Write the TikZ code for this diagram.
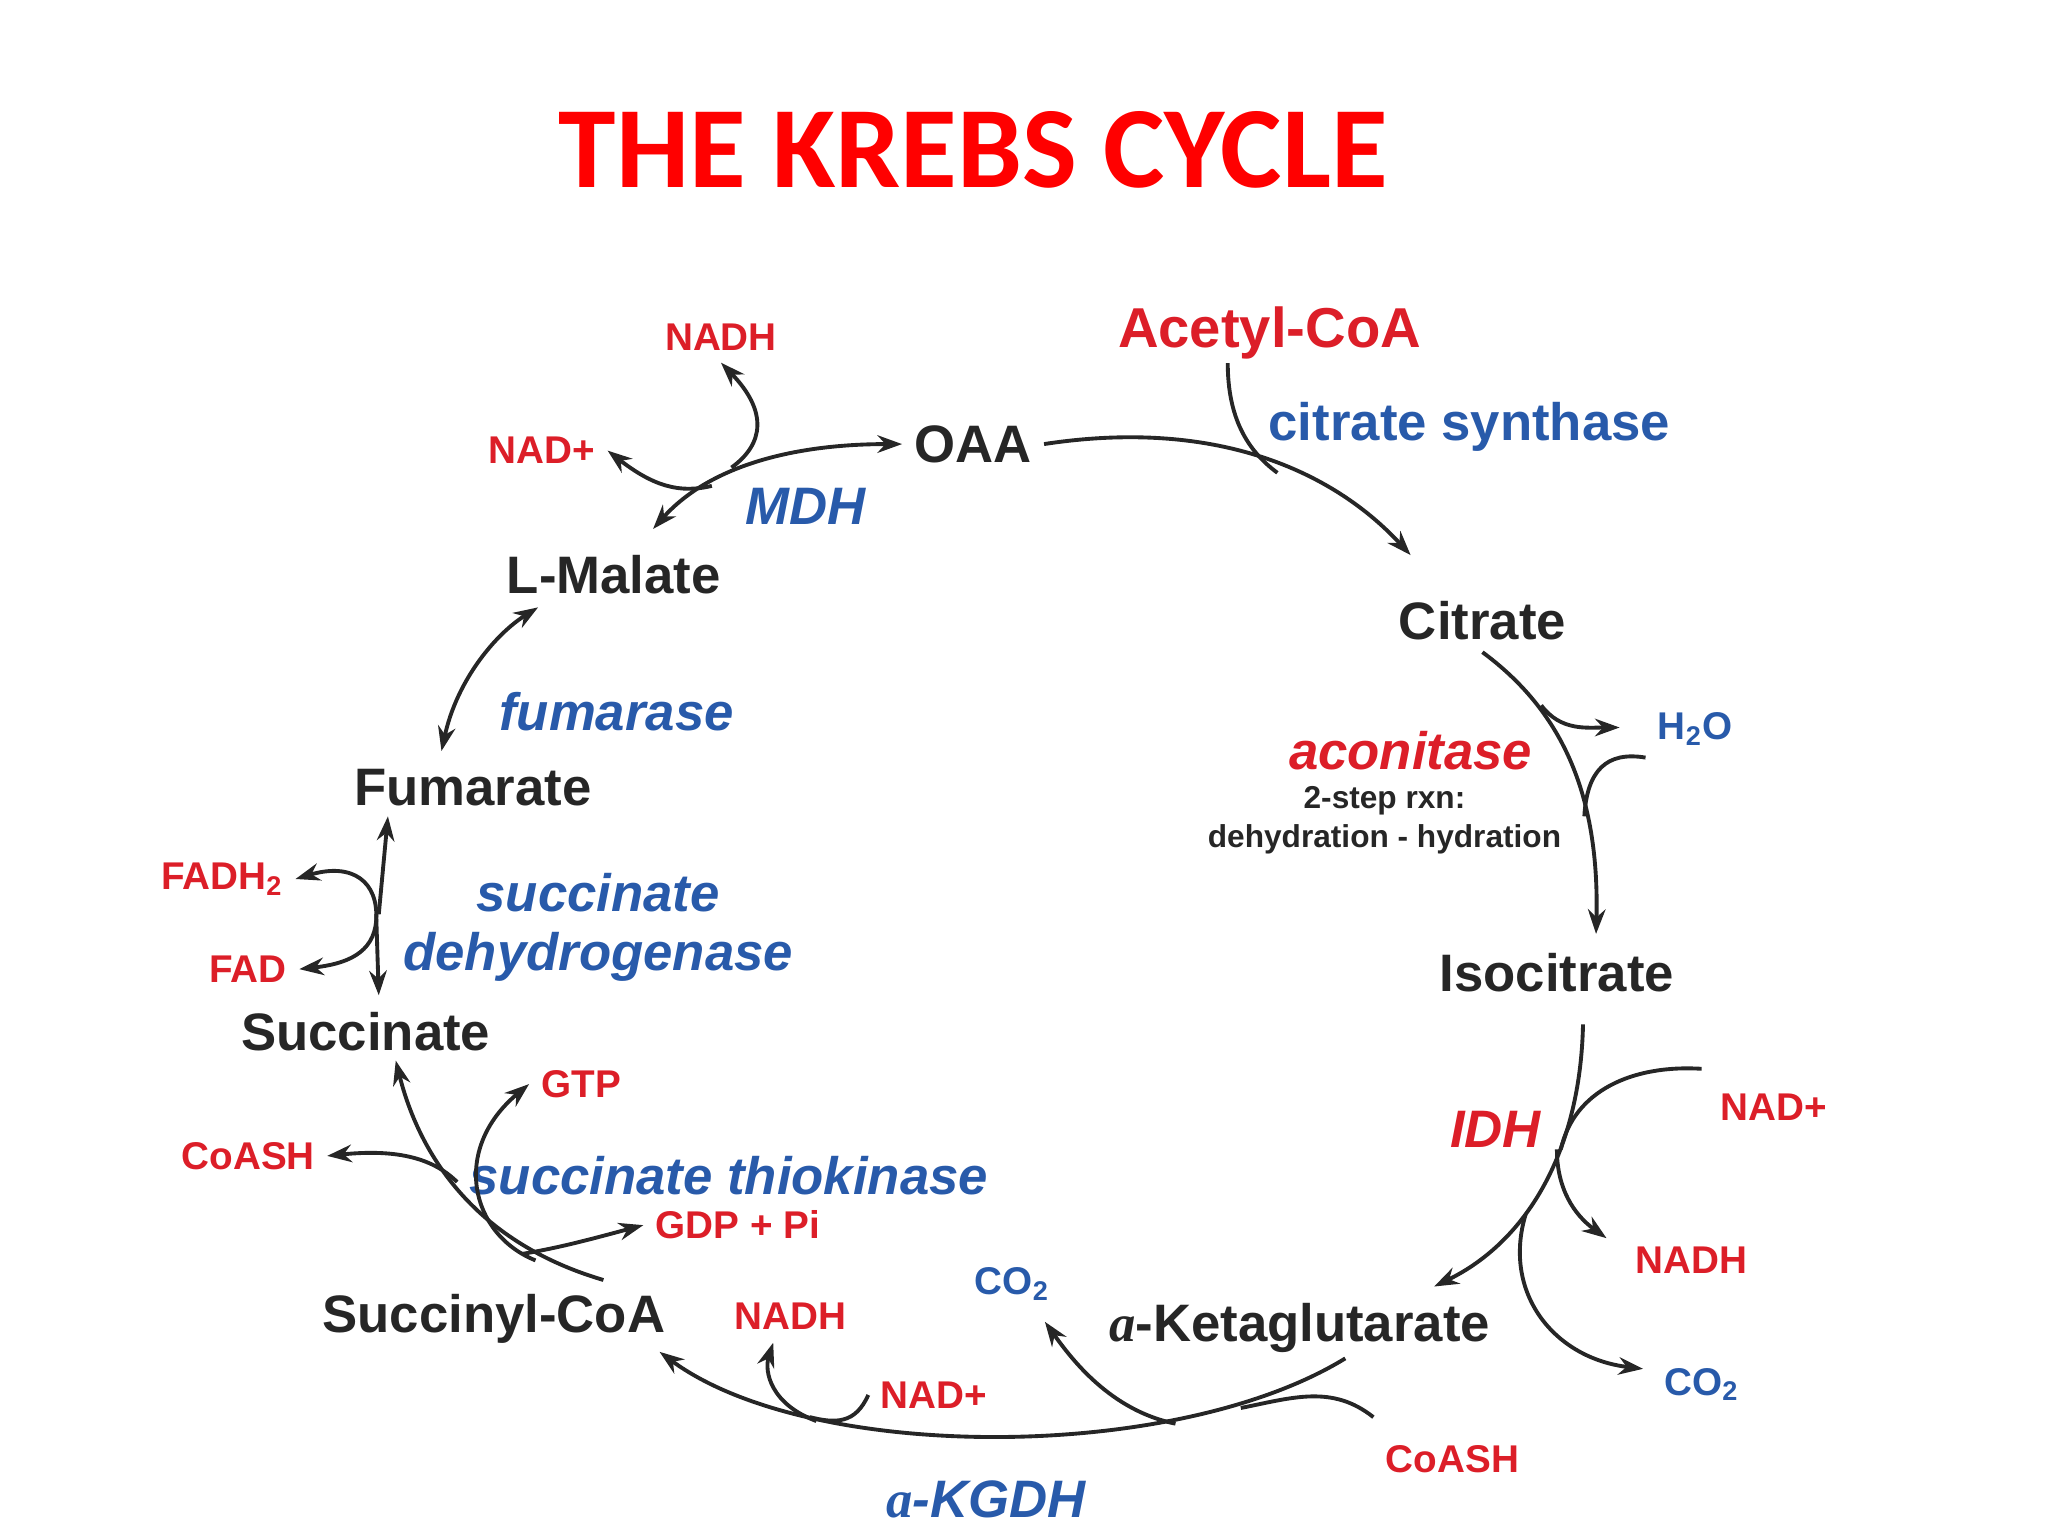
\documentclass[tikz,border=0pt]{standalone}
\usepackage{fontspec}
\setmainfont{Liberation Sans}
\newfontfamily\titlef{Carlito}
\newfontfamily\serifit{Liberation Serif}
\usetikzlibrary{arrows.meta}
\definecolor{kred}{RGB}{220,30,40}
\definecolor{kblue}{RGB}{40,90,170}
\begin{document}
\begin{tikzpicture}[x=0.01306cm,y=-0.01306cm,
 mol/.style={font=\fontsize{15}{17}\selectfont\bfseries,text=black!85},
 red/.style={font=\fontsize{11}{13}\selectfont\bfseries,text=kred},
 blu/.style={font=\fontsize{11}{13}\selectfont\bfseries,text=kblue},
 enz/.style={font=\fontsize{15}{17}\selectfont\bfseries\itshape,text=kblue},
 renz/.style={font=\fontsize{15}{17}\selectfont\bfseries\itshape,text=kred},
 ar/.style={-{Stealth[length=7pt,width=5pt]},line width=1.1pt,black!85},
 ln/.style={line width=1.1pt,black!85}]
\useasboundingbox (0,0) rectangle (1568,1176);
\node[font=\fontsize{33}{38}\selectfont\titlef\bfseries,text=red] (title) at (745,115) {THE KREBS CYCLE};
% molecules
\node[mol] (oaa) at (745,340) {OAA};
\node[mol] (cit) at (1135,475) {Citrate};
\node[mol] (iso) at (1192,745) {Isocitrate};
\node[mol] (akg) at (995,1017) {{\serifit\itshape a}-Ketaglutarate};
\node[mol] (sca) at (378,1010) {Succinyl-CoA};
\node[mol] (suc) at (280,790) {Succinate};
\node[mol] (fum) at (362,603) {Fumarate};
\node[mol] (mal) at (470,440) {L-Malate};
% enzymes
\node[enz,font=\fontsize{15}{17}\selectfont\bfseries] (cs) at (1125,327) {citrate synthase};
\node[renz] (acon) at (1080,575) {aconitase};
\node[font=\fontsize{9}{11}\selectfont\bfseries,text=black!85,align=center] (rxn) at (1060,628) {2-step rxn:\\dehydration - hydration};
\node[renz] (idh) at (1145,865) {IDH};
\node[enz] (kgdh) at (755,1148) {{\serifit a}-KGDH};
\node[enz] (sth) at (558,900) {succinate thiokinase};
\node[enz,align=center] (sdh) at (458,710) {succinate\\dehydrogenase};
\node[enz] (fumase) at (472,545) {fumarase};
\node[enz] (mdh) at (617,388) {MDH};
% cofactors
\node[font=\fontsize{16}{18}\selectfont\bfseries,text=kred] (acoa) at (972,255) {Acetyl-CoA};
\node[red] (nadh1) at (552,258) {NADH};
\node[red] (nad1) at (415,345) {NAD+};
\node[red] (fadh) at (170,673) {FADH\textsubscript{2}};
\node[red] (fad) at (190,742) {FAD};
\node[red] (gtp) at (445,830) {GTP};
\node[red] (coa1) at (190,885) {CoASH};
\node[red] (gdp) at (565,938) {GDP + Pi};
\node[red] (nadh2) at (605,1008) {NADH};
\node[red] (nad2) at (715,1068) {NAD+};
\node[blu] (co2a) at (775,983) {CO\textsubscript{2}};
\node[red] (coa2) at (1112,1117) {CoASH};
\node[red] (nad3) at (1358,848) {NAD+};
\node[red] (nadh3) at (1295,965) {NADH};
\node[blu] (co2b) at (1303,1060) {CO\textsubscript{2}};
\node[blu] (h2o) at (1298,558) {H\textsubscript{2}O};
% OAA -> Citrate
\coordinate (c1) at (1080,425);
\draw[ar] (oaa.east) .. controls (930,320) and (1020,360) .. (c1);
\coordinate (a0) at (940,278);
\draw[ln] (a0) .. controls (940,320) and (955,345) .. (978,362);
% Citrate -> Isocitrate
\coordinate (c2) at (1222,715);
\draw[ar] (cit.south) .. controls (1190,540) and (1225,600) .. (c2);
\coordinate (h1) at (1240,557);
\draw[ar] (1180,540) .. controls (1195,560) and (1215,557) .. (h1);
\draw[ln] (h2o.south west) .. controls (1230,575) and (1215,590) .. (1213,625);
% Isocitrate -> aKG
\coordinate (c3) at (1098,985);
\draw[ar] (iso.south) ++(20,15) .. controls (1210,880) and (1170,950) .. (c3);
\draw[ln] (nad3.north west) ++(-5,-10) .. controls (1250,815) and (1205,835) .. (1195,880);
\coordinate (n3) at (1230,948);
\draw[ar] (1192,880) .. controls (1192,910) and (1205,930) .. (n3);
\coordinate (o3) at (1258,1048);
\draw[ar] (1168,930) .. controls (1150,990) and (1190,1040) .. (o3);
% aKG -> Succinyl-CoA
\coordinate (c4) at (505,1035);
\draw[ar] (1030,1040) .. controls (900,1120) and (620,1120) .. (c4);
\draw[ln] (coa2.north west) ++(0,-12) .. controls (1020,1060) and (990,1070) .. (950,1078);
\coordinate (o4) at (800,1012);
\draw[ar] (900,1090) .. controls (850,1080) and (820,1040) .. (o4);
\draw[ln] (nad2.west) .. controls (655,1090) and (640,1090) .. (620,1085);
\coordinate (n4) at (592,1028);
\draw[ar] (625,1088) .. controls (590,1075) and (585,1050) .. (n4);
% Succinyl-CoA -> Succinate
\coordinate (c5) at (303,812);
\draw[ar] (462,980) .. controls (360,950) and (320,880) .. (c5);
\draw[ar] (350,905) .. controls (330,885) and (300,880) .. (coa1.east);
\draw[ar] (400,960) .. controls (430,955) and (455,948) .. (gdp.west);
\draw[ar] (410,965) .. controls (360,945) and (345,880) .. (gtp.west);
% Succinate <-> Fumarate
\draw[ar] (290,700) -- (297,625);
\draw[ar] (288,700) -- (290,762);
\draw[ar] (288,705) .. controls (290,675) and (270,660) .. (fadh.east);
\draw[ar] (288,705) .. controls (286,730) and (265,738) .. (fad.east);
% Fumarate <-> L-Malate
\coordinate (f1) at (338,575);
\coordinate (m1) at (412,465);
\draw[{Stealth[length=7pt,width=5pt]}-{Stealth[length=7pt,width=5pt]},line width=1.1pt,black!85] (f1) .. controls (350,520) and (380,485) .. (m1);
% L-Malate <-> OAA
\coordinate (m2) at (500,405);
\draw[{Stealth[length=7pt,width=5pt]}-{Stealth[length=7pt,width=5pt]},line width=1.1pt,black!85] (m2) .. controls (540,360) and (600,340) .. (oaa.west);
\draw[ar] (545,372) .. controls (520,378) and (500,372) .. (nad1.east);
\draw[ar] (560,358) .. controls (585,340) and (588,315) .. (nadh1.south);
\end{tikzpicture}
\end{document}
